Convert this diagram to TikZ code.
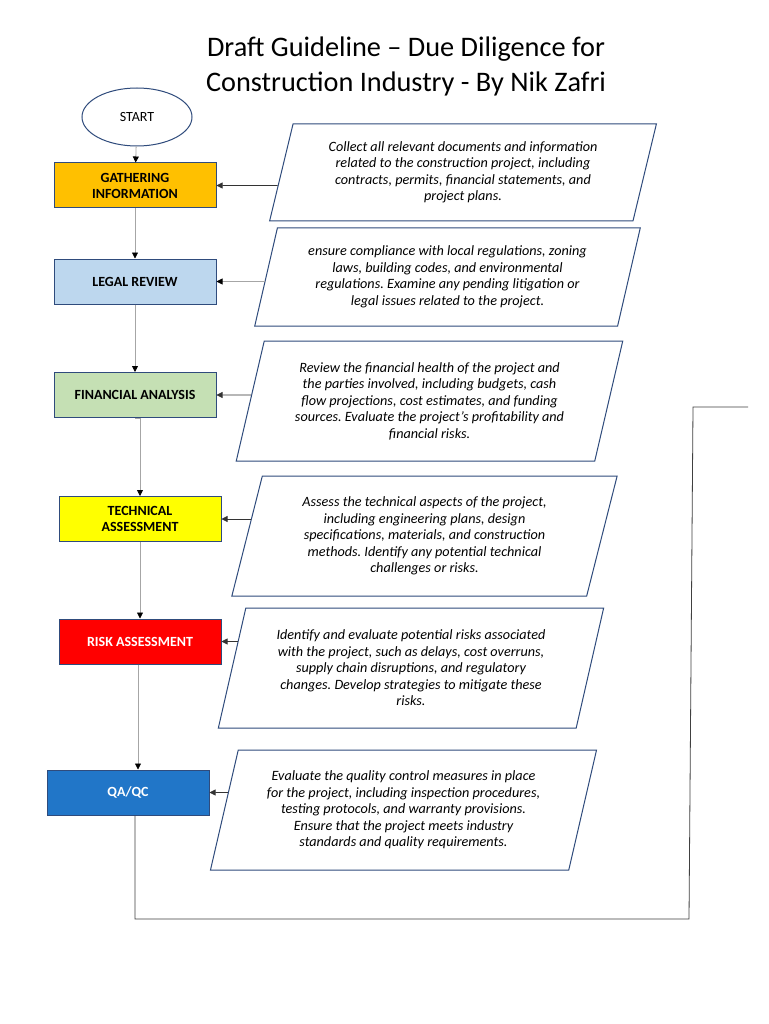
\documentclass[tikz,border=0pt]{standalone}
\usepackage{fontspec}
\setmainfont{Carlito}
\frenchspacing
\usetikzlibrary{arrows.meta,shapes.geometric,positioning}
\definecolor{navyline}{HTML}{2F4B7C}
\definecolor{goldfill}{HTML}{FFC000}
\definecolor{legalfill}{HTML}{BDD7EE}
\definecolor{financefill}{HTML}{C5E0B4}
\definecolor{techfill}{HTML}{FFFF00}
\definecolor{riskfill}{HTML}{FF0000}
\definecolor{qafill}{HTML}{2176C8}
\tikzset{
  title/.style ={align=center, font=\fontsize{28.3}{35}\selectfont},
  start/.style ={ellipse, draw=navyline, line width=1pt, minimum width=110pt,
    minimum height=58pt, font=\fontsize{14}{16}\selectfont},
  stage/.style ={rectangle, draw=navyline, line width=1pt, minimum width=162pt,
    minimum height=45pt, align=center, font=\bfseries\fontsize{14}{16}\selectfont},
  detail/.style={trapezium, trapezium left angle=74.5, trapezium right angle=105.5,
    trapezium stretches=true, draw=navyline, line width=1pt, minimum width=387pt,
    align=center, font=\itshape\fontsize{14.2}{16.5}\selectfont}}
\tikzset{
  flow/.style={-{Triangle[length=6pt,width=6pt,black]}, gray!70, line width=0.8pt},
  feed/.style={-{Triangle[length=6pt,width=6pt]}, black!80, line width=0.8pt},
}
\begin{document}
\begin{tikzpicture}[x=1pt,y=-1pt]
\useasboundingbox[fill=white] (0,0) rectangle (768,1024);

\node[title] (head) at (406,66) {Draft Guideline – Due Diligence for\\Construction Industry - By Nik Zafri};

% Left column
\node[start] (start) at (137,117) {START};
\node[stage, fill=goldfill] (gather) at (135,185.5) {GATHERING\\INFORMATION};
\node[stage, fill=legalfill] (legal) at (135,281.5) {LEGAL REVIEW};
\node[stage, fill=financefill] (finance) at (135,395) {FINANCIAL ANALYSIS};
\node[stage, fill=techfill] (tech) at (140,519) {TECHNICAL\\ASSESSMENT};
\node[stage, fill=riskfill, text=white] (risk) at (140,641.5) {RISK ASSESSMENT};
\node[stage, fill=qafill, text=white] (qa) at (128,792.5) {QA/QC};

% Right column
\node[detail, minimum height=97pt] (d-gather) at (463,172.5)
  {Collect all relevant documents and information\\related to the construction project, including\\contracts, permits, financial statements, and\\project plans.};
\node[detail, minimum height=98pt] (d-legal) at (447.5,277)
  {ensure compliance with local regulations, zoning\\laws, building codes, and environmental\\regulations. Examine any pending litigation or\\legal issues related to the project.};
\node[detail, minimum height=120pt] (d-finance) at (429.5,401)
  {Review the financial health of the project and\\the parties involved, including budgets, cash\\flow projections, cost estimates, and funding\\sources. Evaluate the project's profitability and\\financial risks.};
\node[detail, minimum height=120pt] (d-tech) at (424.5,536)
  {Assess the technical aspects of the project,\\including engineering plans, design\\specifications, materials, and construction\\methods. Identify any potential technical\\challenges or risks.};
\node[detail, minimum height=120pt] (d-risk) at (411,668)
  {Identify and evaluate potential risks associated\\with the project, such as delays, cost overruns,\\supply chain disruptions, and regulatory\\changes. Develop strategies to mitigate these\\risks.};
\node[detail, minimum height=120pt] (d-qa) at (403.5,810)
  {Evaluate the quality control measures in place\\for the project, including inspection procedures,\\testing protocols, and warranty provisions.\\Ensure that the project meets industry\\standards and quality requirements.};

% Main flow
\draw[flow] (start) -- (gather);
\draw[flow] (gather) -- (legal);
\draw[flow] (legal) -- (finance);
\draw[flow] (finance.south) -- (finance.south -| tech.north) -- (tech.north);
\draw[flow] (tech) -- (risk);
\draw[flow] ([xshift=-2pt]risk.south) -- ([xshift=-2pt]risk.south |- qa.north);

% Details into stages
\draw[feed] (intersection of d-gather.bottom left corner--d-gather.top left corner and gather.east--gather.west) -- (gather.east);
\draw[flow] (intersection of d-legal.bottom left corner--d-legal.top left corner and legal.east--legal.west) -- (legal.east);
\draw[feed] (intersection of d-finance.bottom left corner--d-finance.top left corner and finance.east--finance.west) -- (finance.east);
\draw[feed] (intersection of d-tech.bottom left corner--d-tech.top left corner and tech.east--tech.west) -- (tech.east);
\draw[feed] (intersection of d-risk.bottom left corner--d-risk.top left corner and risk.east--risk.west) -- (risk.east);
\draw[feed] (intersection of d-qa.bottom left corner--d-qa.top left corner and qa.east--qa.west) -- (qa.east);

% Return line
\coordinate (loop-b) at (689,919);
\coordinate (loop-c) at (693,407);
\coordinate (loop-d) at (748,407);
\draw[black!75, line width=0.8pt] ([xshift=7pt]qa.south) |- (loop-b) -- (loop-c) -- (loop-d);
\end{tikzpicture}
\end{document}
